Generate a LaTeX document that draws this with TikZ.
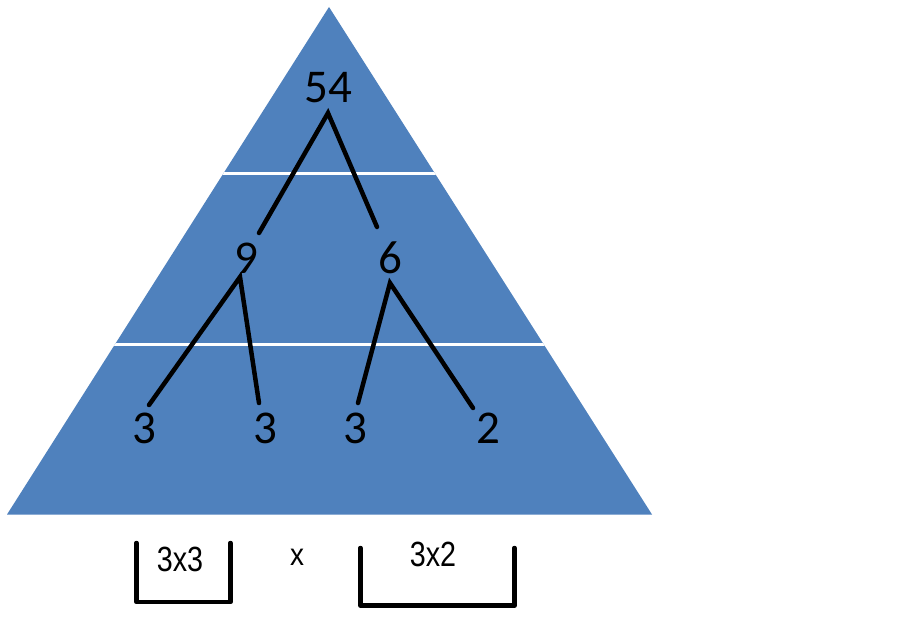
\documentclass[tikz,border=0pt]{standalone}
\usepackage{fontspec}
\setmainfont{Carlito}
\newfontfamily\arialfont{Liberation Sans}
\definecolor{pyrblue}{HTML}{4F81BD}
\tikzset{
  num/.style={inner sep=0pt, font=\fontsize{47}{50}\selectfont},
  lbl/.style={inner sep=0pt, font=\arialfont\fontsize{35}{38}\selectfont},
  smalllbl/.style={inner sep=0pt, font=\arialfont\fontsize{31}{34}\selectfont},
  branch/.style={line width=4.5pt, line cap=round, black},
  brack/.style={line width=4.5pt, line cap=round, line join=round, black},
  band/.style={white, line width=3pt}
}
\begin{document}
\begin{tikzpicture}[x=1pt, y=-1pt]
\useasboundingbox (0,0) rectangle (916,623);
\fill[white] (0,0) rectangle (916,623);
% triangle
\coordinate (apex) at (329,7);
\coordinate (bl) at (7,514.5);
\coordinate (br) at (652,514.5);
\fill[pyrblue] (apex) -- (bl) -- (br) -- cycle;
\begin{scope}
  \clip (apex) -- (bl) -- (br) -- cycle;
  \coordinate (b1l) at (0,174);   \coordinate (b1r) at (916,174);
  \coordinate (b2l) at (0,344.5); \coordinate (b2r) at (916,344.5);
  \draw[band] (b1l) -- (b1r);
  \draw[band] (b2l) -- (b2r);
\end{scope}
% numbers
\node[num] (n54) at (328,87.5) {54};
\node[num] (n9)  at (246,258) {9};
\node[num] (n6)  at (390,258) {6};
\node[num] (a3)  at (144,428) {3};
\node[num] (b3)  at (265,428) {3};
\node[num] (c3)  at (355,428) {3};
\node[num] (d2)  at (488,428) {2};
% connector end points
\coordinate (v54) at (328,113);
\coordinate (e9)  at (259,233);
\coordinate (e6)  at (377,227);
\coordinate (v9)  at (240,277);
\coordinate (ea3) at (149,405);
\coordinate (eb3) at (259,403);
\coordinate (v6)  at (390,283);
\coordinate (ec3) at (358,403);
\coordinate (ed2) at (473,408);
\draw[branch] (e9) -- (v54) -- (e6);
\draw[branch] (ea3) -- (v9) -- (eb3);
\draw[branch] (ec3) -- (v6) -- (ed2);
% brackets
\coordinate (l1) at (136.5,543); \coordinate (l2) at (136.5,602);
\coordinate (l3) at (230.5,602); \coordinate (l4) at (230.5,543);
\draw[brack] (l1) -- (l2) -- (l3) -- (l4);
\coordinate (r1) at (360.5,548); \coordinate (r2) at (360.5,605.5);
\coordinate (r3) at (514.5,605.5); \coordinate (r4) at (514.5,548);
\draw[brack] (r1) -- (r2) -- (r3) -- (r4);
\node[lbl] (t33) at (180,559.5) {\scalebox{0.82}[1]{3x3}};
\node[smalllbl] (tx) at (297,557.5) {\scalebox{0.9}[1]{x}};
\node[lbl] (t32) at (433,554.5) {\scalebox{0.82}[1]{3x2}};
\end{tikzpicture}
\end{document}
